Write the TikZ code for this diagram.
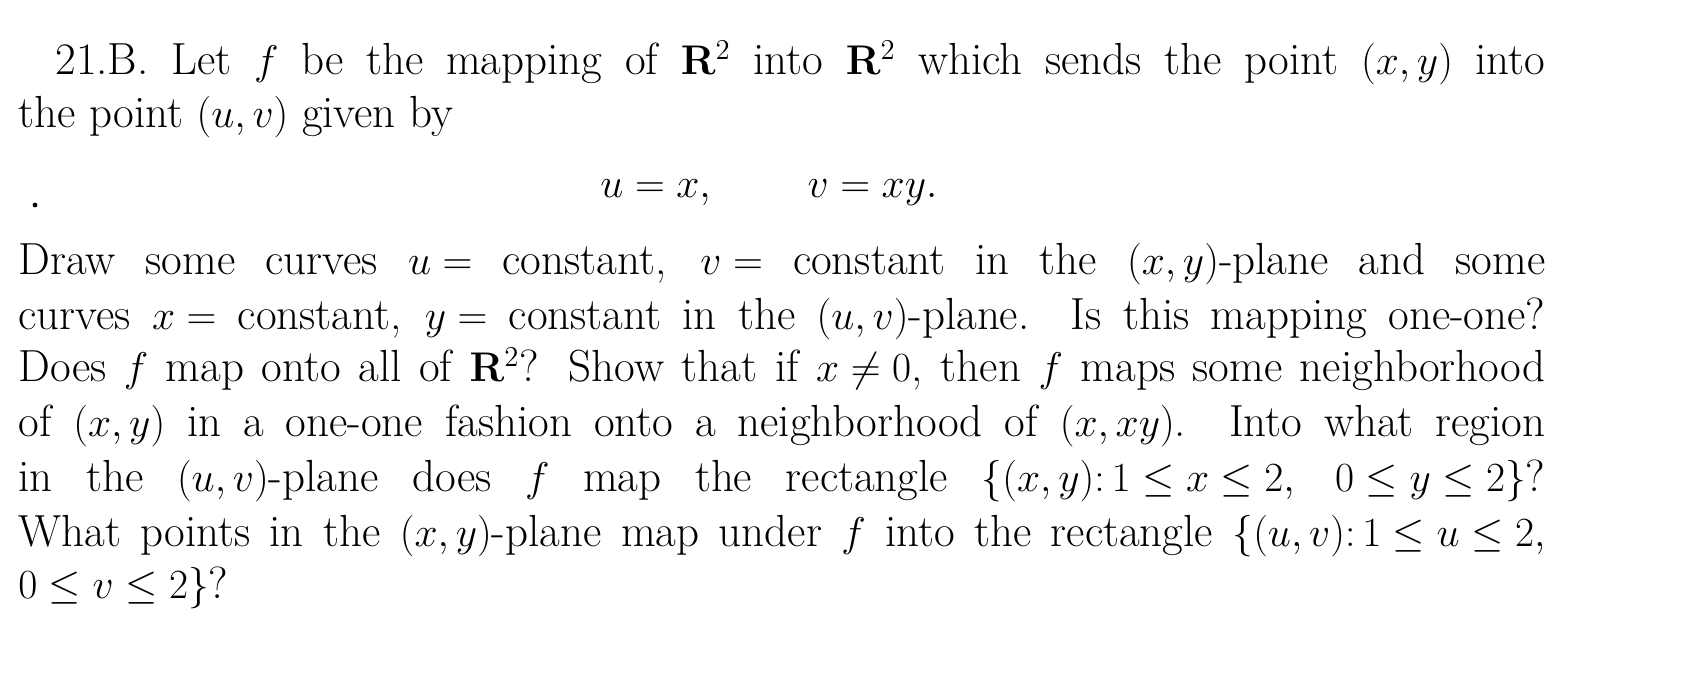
\documentclass[tikz,border=0pt]{standalone}
\usepackage{amssymb}
\tikzset{ln/.style={anchor=base west,inner sep=0pt,font=\fontsize{22.5}{27}\selectfont}}
\newcommand{\fl}[1]{\hbox to 763.5pt{\thickmuskip=5mu\medmuskip=4mu #1}}
\begin{document}
\begin{tikzpicture}[x=1pt,y=1pt]
\useasboundingbox[fill=white] (0,0) rectangle (841,-339);
\node[ln] (l1) at (27.5,-37.5) {\hbox to 745pt{\thickmuskip=5mu\medmuskip=4mu 21.B. Let $f$ be the mapping of $\mathbf{R}^2$ into $\mathbf{R}^2$ which sends the point $(x,y)$ into}};
\node[ln] (l2) at (9,-64) {the point $(u,v)$ given by};
\node[ln] (l3) at (300,-99) {$u=x,\qquad v=xy.$};
\fill (17.5,-102.5) circle (1.2);
\node[ln] (l4) at (9,-137.5) {\fl{Draw some curves $u=$ constant, $v=$ constant in the $(x,y)$-plane and some}};
\node[ln] (l5) at (9,-165) {\fl{curves $x=$ constant, $y=$ constant in the $(u,v)$-plane. Is this mapping one-one?}};
\node[ln] (l6) at (9,-191) {\fl{Does $f$ map onto all of $\mathbf{R}^2$? Show that if $x\neq0$, then $f$ maps some neighborhood}};
\node[ln] (l7) at (9,-218.5) {\fl{of $(x,y)$ in a one-one fashion onto a neighborhood of $(x,xy)$. Into what region}};
\node[ln] (l8) at (9,-246) {\fl{in the $(u,v)$-plane does $f$ map the rectangle $\{(x,y)\colon 1\le x\le2,\ 0\le y\le2\}$?}};
\node[ln] (l9) at (9,-273) {\fl{What points in the $(x,y)$-plane map under $f$ into the rectangle $\{(u,v)\colon 1\le u\le2,$}};
\node[ln] (l10) at (9,-299) {$0\le v\le2\}$?};
\end{tikzpicture}
\end{document}
